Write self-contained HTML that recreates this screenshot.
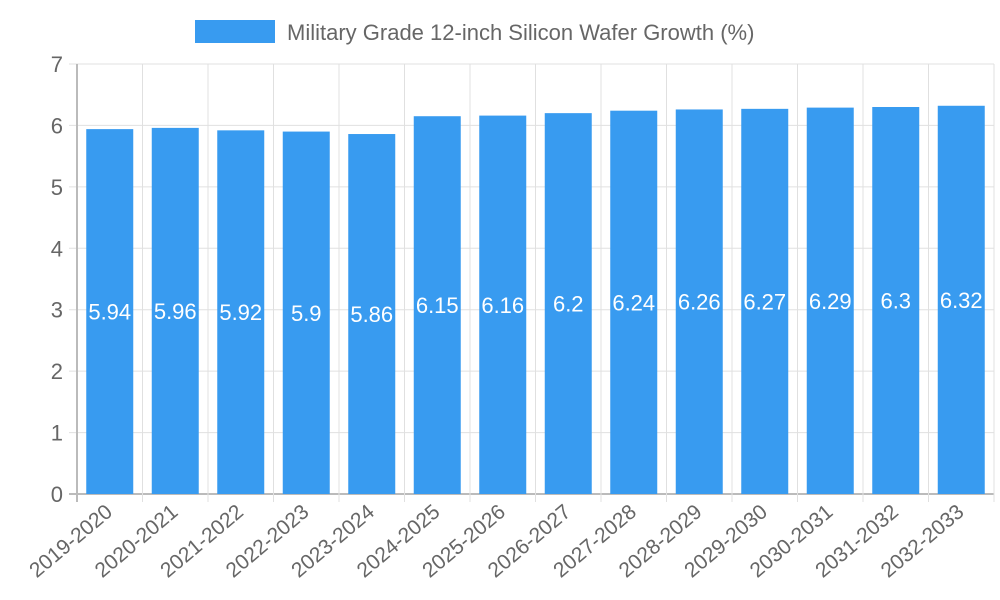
<!DOCTYPE html>
<html><head><meta charset="utf-8"><style>
body{margin:0;background:#fff;}
svg{display:block;font-family:"Liberation Sans",sans-serif;}
</style></head><body>
<svg id="chart" width="1000" height="600" viewBox="0 0 1000 600">
<g>
<rect x="195" y="20" width="80" height="23" fill="#389bf0"/>
<text x="287" y="40" font-size="22" fill="#666">Military Grade 12-inch Silicon Wafer Growth (%)</text>
</g>
<g id="grid"></g><g id="bars"></g><g id="labels"></g>
</svg>
<script>
const categories=["2019-2020","2020-2021","2021-2022","2022-2023","2023-2024","2024-2025","2025-2026","2026-2027","2027-2028","2028-2029","2029-2030","2030-2031","2031-2032","2032-2033"];
const values=[5.94,5.96,5.92,5.9,5.86,6.15,6.16,6.2,6.24,6.26,6.27,6.29,6.3,6.32];
const yTicks=[0,1,2,3,4,5,6,7];
const NS="http://www.w3.org/2000/svg";
const X0=77,X1=994,Y0=494,Y1=64,YMAX=7;
const step=(X1-X0)/categories.length;
const xS=i=>X0+step*i;
const yS=v=>Y0-(v/YMAX)*(Y0-Y1);
function mk(tag,attrs,parent){const e=document.createElementNS(NS,tag);for(const k in attrs)e.setAttribute(k,attrs[k]);parent.appendChild(e);return e;}
const grid=document.getElementById('grid'),bars=document.getElementById('bars'),labels=document.getElementById('labels');
yTicks.forEach(t=>{
 const y=yS(t);
 const l=mk('line',{x1:X0-8,x2:X1,y1:y,y2:y,stroke:t===0?'#bbb':'#e0e0e0','stroke-width':t===0?2:1},grid);
 
 
 const tx=mk('text',{x:X0-14,y:y+8,'text-anchor':'end','font-size':22,fill:'#666'},grid);
 tx.textContent=t;
 
 
});
for(let i=0;i<=categories.length;i++){
 const x=xS(i);
 const l=mk('line',{x1:x,x2:x,y1:Y1,y2:Y0+8,stroke:i===0?'#bbb':'#e0e0e0','stroke-width':i===0?2:1},grid);
 
 
}
const bw=47;
categories.forEach((c,i)=>{
 const cx=xS(i)+step/2;
 const r=mk('rect',{x:cx-bw/2,y:yS(values[i]),width:bw,height:Y0-yS(values[i]),fill:'#389bf0'},bars);
 
 
 const v=mk('text',{x:cx,y:(yS(values[i])+Y0)/2+8,'text-anchor':'middle','font-size':22,fill:'#fff'},labels);
 v.textContent=values[i];
 
 
 const t=mk('text',{x:cx+4,y:Y0+20,'text-anchor':'end','font-size':21,fill:'#666',transform:`rotate(-40 ${cx+4} ${Y0+20})`},labels);
 t.textContent=c;
 
 
});
</script>
</body></html>
